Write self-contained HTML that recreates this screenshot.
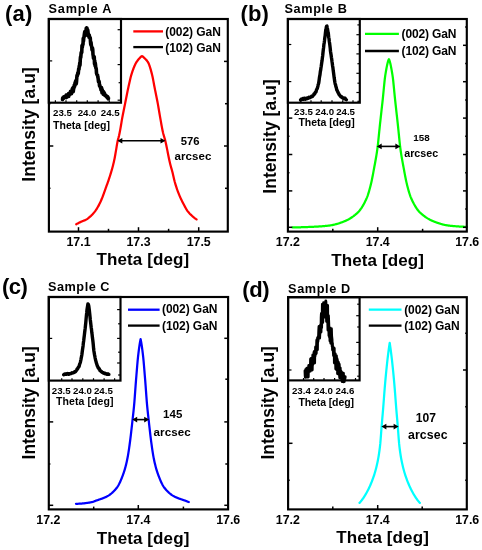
<!DOCTYPE html><html><head><meta charset="utf-8"><title>XRD rocking curves</title>
<style>html,body{margin:0;padding:0;background:#fff}svg{display:block}</style></head><body>
<svg width="482" height="550" viewBox="0 0 482 550" style="font-family:'Liberation Sans',Arial,sans-serif;font-weight:bold" fill="#000">
<rect width="482" height="550" fill="#fff"/>
<g>
<polyline points="76.2,224.3 76.6,224.07 77,223.85 77.4,223.63 77.8,223.41 78.2,223.2 78.6,222.99 79,222.78 79.4,222.57 79.8,222.37 80.2,222.18 80.6,221.98 81,221.79 81.4,221.61 81.8,221.44 82.2,221.27 82.6,221.12 83,220.96 83.4,220.81 83.8,220.66 84.2,220.51 84.6,220.35 85,220.18 85.4,220 85.8,219.81 86.2,219.6 86.6,219.37 87,219.11 87.4,218.83 87.8,218.54 88.2,218.23 88.6,217.9 89,217.57 89.4,217.23 89.8,216.89 90.2,216.54 90.6,216.18 91,215.82 91.4,215.44 91.8,215.05 92.2,214.64 92.6,214.23 93,213.79 93.4,213.35 93.8,212.88 94.2,212.4 94.6,211.88 95,211.35 95.4,210.79 95.8,210.22 96.2,209.62 96.6,209.01 97,208.38 97.4,207.73 97.8,207.05 98.2,206.35 98.6,205.63 99,204.88 99.4,204.1 99.8,203.3 100.2,202.47 100.6,201.6 101,200.7 101.4,199.76 101.8,198.79 102.2,197.8 102.6,196.8 103,195.77 103.4,194.69 103.8,193.59 104.2,192.46 104.6,191.33 105,190.19 105.4,189.06 105.8,187.94 106.2,186.84 106.6,185.74 107,184.64 107.4,183.53 107.8,182.41 108.2,181.27 108.6,180.1 109,178.9 109.4,177.7 109.8,176.48 110.2,175.23 110.6,173.96 111,172.65 111.4,171.3 111.8,169.9 112.2,168.46 112.6,166.98 113,165.45 113.4,163.85 113.8,162.16 114.2,160.37 114.6,158.42 115,156.26 115.4,153.96 115.8,151.63 116.2,149.32 116.6,146.89 117,144.44 117.4,142.18 117.8,140.33 118.2,138.82 118.6,137.39 119,135.77 119.4,133.96 119.8,132.01 120.2,129.9 120.6,127.62 121,125.23 121.4,122.81 121.8,120.42 122.2,118.14 122.6,116.01 123,113.95 123.4,111.94 123.8,109.97 124.2,108.01 124.6,106.06 125,104.1 125.4,102.09 125.8,100.06 126.2,98 126.6,95.95 127,93.91 127.4,91.92 127.8,89.99 128.2,88.14 128.6,86.31 129,84.48 129.4,82.67 129.8,80.9 130.2,79.19 130.6,77.57 131,76.05 131.4,74.65 131.8,73.38 132.2,72.16 132.6,70.98 133,69.84 133.4,68.75 133.8,67.71 134.2,66.71 134.6,65.78 135,64.89 135.4,64.07 135.8,63.3 136.2,62.6 136.6,61.95 137,61.34 137.4,60.78 137.8,60.24 138.2,59.74 138.6,59.27 139,58.82 139.4,58.4 139.8,57.99 140.2,57.55 140.6,57.11 141,56.71 141.4,56.4 141.8,56.22 142.2,56.22 142.6,56.4 143,56.7 143.4,57.08 143.8,57.5 144.2,57.91 144.6,58.28 145,58.65 145.4,59.03 145.8,59.44 146.2,59.86 146.6,60.32 147,60.81 147.4,61.35 147.8,61.95 148.2,62.6 148.6,63.37 149,64.29 149.4,65.34 149.8,66.52 150.2,67.8 150.6,69.16 151,70.6 151.4,72.09 151.8,73.61 152.2,75.23 152.6,77.05 153,79.04 153.4,81.15 153.8,83.31 154.2,85.47 154.6,87.58 155,89.6 155.4,91.57 155.8,93.52 156.2,95.47 156.6,97.44 157,99.45 157.4,101.51 157.8,103.64 158.2,105.88 158.6,108.21 159,110.59 159.4,112.97 159.8,115.32 160.2,117.6 160.6,119.86 161,122.16 161.4,124.44 161.8,126.66 162.2,128.78 162.6,130.75 163,132.52 163.4,134.09 163.8,135.52 164.2,136.86 164.6,138.21 165,139.64 165.4,141.21 165.8,142.92 166.2,144.74 166.6,146.65 167,148.63 167.4,150.64 167.8,152.67 168.2,154.7 168.6,156.71 169,158.66 169.4,160.54 169.8,162.33 170.2,164 170.6,165.53 171,166.95 171.4,168.33 171.8,169.72 172.2,171.2 172.6,172.8 173,174.51 173.4,176.26 173.8,178.01 174.2,179.71 174.6,181.3 175,182.75 175.4,184.11 175.8,185.43 176.2,186.69 176.6,187.92 177,189.1 177.4,190.25 177.8,191.35 178.2,192.42 178.6,193.45 179,194.44 179.4,195.41 179.8,196.34 180.2,197.24 180.6,198.12 181,198.97 181.4,199.81 181.8,200.63 182.2,201.43 182.6,202.22 183,203 183.4,203.78 183.8,204.56 184.2,205.33 184.6,206.1 185,206.85 185.4,207.59 185.8,208.3 186.2,208.98 186.6,209.64 187,210.25 187.4,210.83 187.8,211.36 188.2,211.87 188.6,212.36 189,212.82 189.4,213.27 189.8,213.7 190.2,214.11 190.6,214.51 191,214.9 191.4,215.28 191.8,215.65 192.2,216.01 192.6,216.37 193,216.71 193.4,217.05 193.8,217.39 194.2,217.71 194.6,218.02 195,218.33 195.4,218.62 195.8,218.9 196.2,219.18 196.6,219.44" fill="none" stroke="#ff0000" stroke-width="2.25" stroke-linejoin="round" stroke-linecap="round" />
<line x1="78.5" y1="231.6" x2="78.5" y2="227.2" stroke="#000" stroke-width="1.5"/>
<text x="78.5" y="246" font-size="12.4" text-anchor="middle" >17.1</text>
<line x1="108.5" y1="231.6" x2="108.5" y2="228.8" stroke="#000" stroke-width="1.5"/>
<line x1="138.5" y1="231.6" x2="138.5" y2="227.2" stroke="#000" stroke-width="1.5"/>
<text x="138.5" y="246" font-size="12.4" text-anchor="middle" >17.3</text>
<line x1="168.6" y1="231.6" x2="168.6" y2="228.8" stroke="#000" stroke-width="1.5"/>
<line x1="198.7" y1="231.6" x2="198.7" y2="227.2" stroke="#000" stroke-width="1.5"/>
<text x="198.7" y="246" font-size="12.4" text-anchor="middle" >17.5</text>
<line x1="48.9" y1="61.4" x2="53.3" y2="61.4" stroke="#000" stroke-width="1.5"/>
<line x1="227.8" y1="61.4" x2="224" y2="61.4" stroke="#000" stroke-width="1.5"/>
<line x1="48.9" y1="103.7" x2="50.5" y2="103.7" stroke="#000" stroke-width="1.5"/>
<line x1="227.8" y1="103.7" x2="225" y2="103.7" stroke="#000" stroke-width="1.5"/>
<line x1="48.9" y1="146" x2="53.3" y2="146" stroke="#000" stroke-width="1.5"/>
<line x1="227.8" y1="146" x2="224" y2="146" stroke="#000" stroke-width="1.5"/>
<line x1="48.9" y1="188.3" x2="50.5" y2="188.3" stroke="#000" stroke-width="1.5"/>
<line x1="227.8" y1="188.3" x2="225" y2="188.3" stroke="#000" stroke-width="1.5"/>
<rect x="48.8" y="19" width="72.2" height="83.7" fill="#fff" stroke="#000" stroke-width="2.15"/>
<polyline points="62.5,99.48 62.75,97.83 63,98.43 63.25,98.14 63.5,98.54 63.75,96.73 64,97.37 64.25,96.99 64.5,96.62 64.75,96.68 65,96.84 65.25,96.91 65.5,96.26 65.75,97.28 66,96.31 66.25,95.06 66.5,97.58 66.75,96.01 67,95.53 67.25,96.3 67.5,96.1 67.75,95.76 68,94.71 68.25,95.53 68.5,93.63 68.75,96.39 69,93.46 69.25,94.31 69.5,94.31 69.75,94.29 70,93.55 70.25,94.08 70.5,91.34 70.75,92.77 71,92.41 71.25,91.79 71.5,93.7 71.75,90.49 72,91.16 72.25,88.9 72.5,90.81 72.75,88.09 73,87.7 73.25,91.6 73.5,89.62 73.75,88.22 74,87.92 74.25,85.21 74.5,85.09 74.75,86.44 75,82.87 75.25,84.83 75.5,81.32 75.75,83.07 76,80.42 76.25,83.81 76.5,81.75 76.75,78.33 77,75.43 77.25,75.63 77.5,75.64 77.75,72.88 78,73.79 78.25,73.71 78.5,70.56 78.75,68.49 79,69.27 79.25,65.88 79.5,66.57 79.75,62.91 80,65.13 80.25,59.95 80.5,56.85 80.75,57.58 81,54.52 81.25,52.24 81.5,52.24 81.75,52.42 82,45.65 82.25,47.45 82.5,45.61 82.75,44.01 83,44.54 83.25,38.24 83.5,41.2 83.75,37.76 84,37.18 84.25,35.01 84.5,33.38 84.75,31.67 85,32.83 85.25,35.58 85.5,33 85.75,31.97 86,30.76 86.25,28.1 86.5,30.11 86.75,33 87,28.1 87.25,30.5 87.5,31.31 87.75,30.07 88,31.96 88.25,34.17 88.5,36.09 88.75,35.55 89,37.2 89.25,35.05 89.5,37.31 89.75,36.97 90,38.47 90.25,37.97 90.5,41.76 90.75,44.7 91,42.33 91.25,44.51 91.5,46.6 91.75,46.58 92,49.86 92.25,49.7 92.5,48.02 92.75,49.7 93,54.73 93.25,55.9 93.5,58.21 93.75,57.82 94,59.04 94.25,56.85 94.5,63.9 94.75,60.7 95,65.68 95.25,62.84 95.5,65.01 95.75,67.77 96,68.04 96.25,68.9 96.5,73.03 96.75,73.95 97,74.75 97.25,74.75 97.5,75.12 97.75,76.77 98,77.76 98.25,79.55 98.5,81.73 98.75,81.25 99,81.23 99.25,82.36 99.5,85.9 99.75,85.09 100,85.96 100.25,86.77 100.5,87.9 100.75,88 101,89.99 101.25,90.12 101.5,87.46 101.75,90.02 102,92.83 102.25,89.59 102.5,91.69 102.75,93.19 103,92.33 103.25,94.2 103.5,91.66 103.75,92.03 104,93.52 104.25,93.25 104.5,93.22 104.75,95.21 105,95.18 105.25,95.2 105.5,95.07 105.75,95.98 106,95.87 106.25,95.56 106.5,96.93 106.75,97.02 107,96.98 107.25,97.71 107.5,96.4 107.75,97.38 108,97.25 108.25,98.83 108.5,98.33" fill="none" stroke="#000" stroke-width="3.6" stroke-linejoin="round" stroke-linecap="round" />
<text x="62.5" y="116.4" font-size="9.7" text-anchor="middle" >23.5</text>
<text x="87.1" y="116.4" font-size="9.7" text-anchor="middle" >24.0</text>
<text x="110.2" y="116.4" font-size="9.7" text-anchor="middle" >24.5</text>
<line x1="55.4" y1="102.7" x2="55.4" y2="100.3" stroke="#000" stroke-width="1.2"/>
<line x1="66" y1="102.7" x2="66" y2="100.3" stroke="#000" stroke-width="1.2"/>
<line x1="76.7" y1="102.7" x2="76.7" y2="100.3" stroke="#000" stroke-width="1.2"/>
<line x1="87.3" y1="102.7" x2="87.3" y2="100.3" stroke="#000" stroke-width="1.2"/>
<line x1="98.1" y1="102.7" x2="98.1" y2="100.3" stroke="#000" stroke-width="1.2"/>
<line x1="109.3" y1="102.7" x2="109.3" y2="100.3" stroke="#000" stroke-width="1.2"/>
<text x="53" y="128.6" font-size="10.5" text-anchor="start" textLength="57" lengthAdjust="spacing" >Theta [deg]</text>
<line x1="48.8" y1="60.9" x2="52.2" y2="60.9" stroke="#000" stroke-width="1.2"/>
<line x1="121" y1="29.7" x2="117.6" y2="29.7" stroke="#000" stroke-width="1.2"/>
<line x1="121" y1="47.8" x2="118.6" y2="47.8" stroke="#000" stroke-width="1.2"/>
<line x1="121" y1="64.6" x2="117.6" y2="64.6" stroke="#000" stroke-width="1.2"/>
<line x1="121" y1="82.7" x2="118.6" y2="82.7" stroke="#000" stroke-width="1.2"/>
<line x1="121" y1="100.2" x2="117.6" y2="100.2" stroke="#000" stroke-width="1.2"/>
<rect x="48.9" y="19" width="178.9" height="212.6" fill="none" stroke="#000" stroke-width="2.15"/>
<line x1="133.3" y1="31.4" x2="163" y2="31.4" stroke="#ff0000" stroke-width="2.3"/>
<line x1="133.3" y1="47.1" x2="163" y2="47.1" stroke="#000" stroke-width="2.3"/>
<text x="165.3" y="35.9" font-size="12" text-anchor="start" textLength="55.6" lengthAdjust="spacing" >(002) GaN</text>
<text x="165.3" y="51.6" font-size="12" text-anchor="start" textLength="55.6" lengthAdjust="spacing" >(102) GaN</text>
<line x1="120.3" y1="140.8" x2="162.5" y2="140.8" stroke="#000" stroke-width="1.6"/><polygon points="117.3,140.8 122.3,138 122.3,143.6" fill="#000"/><polygon points="165.5,140.8 160.5,138 160.5,143.6" fill="#000"/>
<text x="190.1" y="144.8" font-size="11.3" text-anchor="middle" >576</text>
<text x="174.5" y="159.9" font-size="11.5" text-anchor="start" textLength="37" lengthAdjust="spacing" >arcsec</text>
<text x="96.6" y="265.1" font-size="17" text-anchor="start" textLength="92.6" lengthAdjust="spacing" >Theta [deg]</text>
<text transform="translate(35.4,124.5) rotate(-90)" x="-57.25" y="0" font-size="17.5" textLength="114.5" lengthAdjust="spacing">Intensity [a.u]</text>
<text x="5" y="21.2" font-size="22" text-anchor="start" textLength="27.4" lengthAdjust="spacing" >(a)</text>
<text x="48.6" y="13" font-size="12.7" text-anchor="start" textLength="62.8" lengthAdjust="spacing" >Sample A</text>
</g>
<g>
<polyline points="292.4,227.4 292.8,227.4 293.2,227.4 293.6,227.39 294,227.39 294.4,227.39 294.8,227.38 295.2,227.38 295.6,227.37 296,227.36 296.4,227.36 296.8,227.35 297.2,227.34 297.6,227.33 298,227.33 298.4,227.32 298.8,227.31 299.2,227.3 299.6,227.29 300,227.28 300.4,227.27 300.8,227.26 301.2,227.24 301.6,227.23 302,227.22 302.4,227.21 302.8,227.2 303.2,227.18 303.6,227.17 304,227.15 304.4,227.14 304.8,227.13 305.2,227.11 305.6,227.1 306,227.08 306.4,227.07 306.8,227.05 307.2,227.04 307.6,227.02 308,227 308.4,226.99 308.8,226.97 309.2,226.96 309.6,226.94 310,226.92 310.4,226.91 310.8,226.89 311.2,226.87 311.6,226.86 312,226.84 312.4,226.82 312.8,226.8 313.2,226.79 313.6,226.77 314,226.75 314.4,226.73 314.8,226.71 315.2,226.69 315.6,226.67 316,226.65 316.4,226.63 316.8,226.61 317.2,226.59 317.6,226.57 318,226.54 318.4,226.52 318.8,226.49 319.2,226.47 319.6,226.44 320,226.41 320.4,226.39 320.8,226.36 321.2,226.33 321.6,226.3 322,226.27 322.4,226.24 322.8,226.2 323.2,226.17 323.6,226.14 324,226.1 324.4,226.07 324.8,226.03 325.2,225.99 325.6,225.95 326,225.92 326.4,225.88 326.8,225.83 327.2,225.79 327.6,225.75 328,225.7 328.4,225.66 328.8,225.61 329.2,225.56 329.6,225.51 330,225.45 330.4,225.39 330.8,225.33 331.2,225.26 331.6,225.19 332,225.11 332.4,225.03 332.8,224.95 333.2,224.87 333.6,224.78 334,224.68 334.4,224.59 334.8,224.49 335.2,224.39 335.6,224.28 336,224.17 336.4,224.06 336.8,223.95 337.2,223.83 337.6,223.71 338,223.59 338.4,223.46 338.8,223.34 339.2,223.21 339.6,223.08 340,222.94 340.4,222.81 340.8,222.67 341.2,222.53 341.6,222.39 342,222.24 342.4,222.1 342.8,221.95 343.2,221.8 343.6,221.65 344,221.49 344.4,221.33 344.8,221.16 345.2,220.99 345.6,220.81 346,220.63 346.4,220.44 346.8,220.25 347.2,220.05 347.6,219.85 348,219.64 348.4,219.43 348.8,219.2 349.2,218.98 349.6,218.74 350,218.51 350.4,218.26 350.8,218.01 351.2,217.75 351.6,217.49 352,217.22 352.4,216.94 352.8,216.66 353.2,216.36 353.6,216.07 354,215.76 354.4,215.45 354.8,215.13 355.2,214.81 355.6,214.47 356,214.13 356.4,213.78 356.8,213.43 357.2,213.07 357.6,212.69 358,212.31 358.4,211.9 358.8,211.47 359.2,211.02 359.6,210.54 360,210.03 360.4,209.5 360.8,208.95 361.2,208.38 361.6,207.78 362,207.16 362.4,206.51 362.8,205.84 363.2,205.15 363.6,204.43 364,203.69 364.4,202.93 364.8,202.14 365.2,201.34 365.6,200.5 366,199.65 366.4,198.77 366.8,197.87 367.2,196.89 367.6,195.81 368,194.65 368.4,193.4 368.8,192.09 369.2,190.7 369.6,189.25 370,187.75 370.4,186.2 370.8,184.61 371.2,182.98 371.6,181.22 372,179.32 372.4,177.32 372.8,175.24 373.2,173.09 373.6,170.91 374,168.73 374.4,166.57 374.8,164.42 375.2,162.26 375.6,160.05 376,157.76 376.4,155.36 376.8,152.81 377.2,150.09 377.6,147.17 378,143.76 378.4,139.78 378.8,135.89 379.2,131.96 379.6,128.05 380,124.23 380.4,120.52 380.8,116.89 381.2,113.3 381.6,109.73 382,106.16 382.4,102.55 382.8,98.86 383.2,94.91 383.6,90.75 384,86.58 384.4,82.58 384.8,78.95 385.2,75.87 385.6,73.38 386,71.01 386.4,68.75 386.8,66.63 387.2,64.68 387.6,62.95 388,61.46 388.4,60.26 388.8,59.37 388.9,59.2 389.2,59.77 389.6,60.82 390,62.17 390.4,63.79 390.8,65.63 391.2,67.67 391.6,69.86 392,72.19 392.4,74.59 392.8,77.33 393.2,80.71 393.6,84.55 394,88.65 394.4,92.84 394.8,96.92 395.2,100.72 395.6,104.36 396,107.95 396.4,111.52 396.8,115.09 397.2,118.7 397.6,122.37 398,126.12 398.4,130 398.8,133.93 399.2,137.84 399.6,141.78 400,145.59 400.4,148.66 400.8,151.48 401.2,154.1 401.6,156.57 402,158.91 402.4,161.16 402.8,163.34 403.2,165.49 403.6,167.64 404,169.82 404.4,172.01 404.8,174.17 405.2,176.29 405.6,178.33 406,180.29 406.4,182.12 406.8,183.8 407.2,185.41 407.6,186.98 408,188.51 408.4,189.98 408.8,191.4 409.2,192.75 409.6,194.04 410,195.24 410.4,196.36 410.8,197.39 411.2,198.33 411.6,199.21 412,200.08 412.4,200.92 412.8,201.74 413.2,202.54 413.6,203.31 414,204.07 414.4,204.79 414.8,205.5 415.2,206.18 415.6,206.84 416,207.47 416.4,208.08 416.8,208.67 417.2,209.23 417.6,209.77 418,210.29 418.4,210.78 418.8,211.25 419.2,211.69 419.6,212.11 420,212.5 420.4,212.88 420.8,213.25 421.2,213.61 421.6,213.96 422,214.3 422.4,214.64 422.8,214.97 423.2,215.29 423.6,215.61 424,215.92 424.4,216.22 424.8,216.51 425.2,216.8 425.6,217.08 426,217.35 426.4,217.62 426.8,217.88 427.2,218.14 427.6,218.38 428,218.63 428.4,218.86 428.8,219.09 429.2,219.32 429.6,219.53 430,219.75 430.4,219.95 430.8,220.15 431.2,220.35 431.6,220.54 432,220.72 432.4,220.9 432.8,221.08 433.2,221.25 433.6,221.41 434,221.57 434.4,221.72 434.8,221.87 435.2,222.02 435.6,222.17 436,222.31 436.4,222.46 436.8,222.6 437.2,222.74 437.6,222.87 438,223.01 438.4,223.14 438.8,223.27 439.2,223.4 439.6,223.53 440,223.65 440.4,223.77 440.8,223.89 441.2,224 441.6,224.12 442,224.23 442.4,224.33 442.8,224.44 443.2,224.54 443.6,224.64 444,224.73 444.4,224.82 444.8,224.91 445.2,224.99 445.6,225.07 446,225.15 446.4,225.23 446.8,225.3 447.2,225.36 447.6,225.42 448,225.48 448.4,225.54 448.8,225.59 449.2,225.64 449.6,225.68 450,225.73 450.4,225.77 450.8,225.81 451.2,225.85 451.6,225.9 452,225.94 452.4,225.97 452.8,226.01 453.2,226.05 453.6,226.09 454,226.12 454.4,226.15 454.8,226.19 455.2,226.22 455.6,226.25 456,226.28 456.4,226.31 456.8,226.34 457.2,226.37 457.6,226.4 458,226.43 458.4,226.45 458.8,226.48 459.2,226.51 459.6,226.53 460,226.55 460.4,226.58 460.8,226.6 461.2,226.62 461.6,226.64 462,226.66 462.4,226.68 462.8,226.7 463.2,226.72 463.6,226.74 464,226.76 464.4,226.78 464.8,226.8 465.2,226.81 465.6,226.83 466,226.85 466.4,226.86 466.8,226.88" fill="none" stroke="#00ff00" stroke-width="2.25" stroke-linejoin="round" stroke-linecap="round" />
<text x="287.9" y="246" font-size="12.4" text-anchor="middle" >17.2</text>
<line x1="332.8" y1="231.6" x2="332.8" y2="228.8" stroke="#000" stroke-width="1.5"/>
<line x1="377.7" y1="231.6" x2="377.7" y2="227.2" stroke="#000" stroke-width="1.5"/>
<text x="377.7" y="246" font-size="12.4" text-anchor="middle" >17.4</text>
<line x1="422.6" y1="231.6" x2="422.6" y2="228.8" stroke="#000" stroke-width="1.5"/>
<text x="467.2" y="246" font-size="12.4" text-anchor="middle" >17.6</text>
<line x1="287.9" y1="27.1" x2="289.5" y2="27.1" stroke="#000" stroke-width="1.5"/>
<line x1="466.8" y1="27.1" x2="465.2" y2="27.1" stroke="#000" stroke-width="1.5"/>
<line x1="287.9" y1="45.3" x2="292.3" y2="45.3" stroke="#000" stroke-width="1.5"/>
<line x1="466.8" y1="45.3" x2="463" y2="45.3" stroke="#000" stroke-width="1.5"/>
<line x1="287.9" y1="63.5" x2="289.5" y2="63.5" stroke="#000" stroke-width="1.5"/>
<line x1="466.8" y1="63.5" x2="465.2" y2="63.5" stroke="#000" stroke-width="1.5"/>
<line x1="287.9" y1="81.7" x2="292.3" y2="81.7" stroke="#000" stroke-width="1.5"/>
<line x1="466.8" y1="81.7" x2="463" y2="81.7" stroke="#000" stroke-width="1.5"/>
<line x1="287.9" y1="99.9" x2="289.5" y2="99.9" stroke="#000" stroke-width="1.5"/>
<line x1="466.8" y1="99.9" x2="465.2" y2="99.9" stroke="#000" stroke-width="1.5"/>
<line x1="287.9" y1="118.1" x2="292.3" y2="118.1" stroke="#000" stroke-width="1.5"/>
<line x1="466.8" y1="118.1" x2="463" y2="118.1" stroke="#000" stroke-width="1.5"/>
<line x1="287.9" y1="136.3" x2="289.5" y2="136.3" stroke="#000" stroke-width="1.5"/>
<line x1="466.8" y1="136.3" x2="465.2" y2="136.3" stroke="#000" stroke-width="1.5"/>
<line x1="287.9" y1="154.5" x2="292.3" y2="154.5" stroke="#000" stroke-width="1.5"/>
<line x1="466.8" y1="154.5" x2="463" y2="154.5" stroke="#000" stroke-width="1.5"/>
<line x1="287.9" y1="172.7" x2="289.5" y2="172.7" stroke="#000" stroke-width="1.5"/>
<line x1="466.8" y1="172.7" x2="465.2" y2="172.7" stroke="#000" stroke-width="1.5"/>
<line x1="287.9" y1="190.9" x2="292.3" y2="190.9" stroke="#000" stroke-width="1.5"/>
<line x1="466.8" y1="190.9" x2="463" y2="190.9" stroke="#000" stroke-width="1.5"/>
<line x1="287.9" y1="209.1" x2="289.5" y2="209.1" stroke="#000" stroke-width="1.5"/>
<line x1="466.8" y1="209.1" x2="465.2" y2="209.1" stroke="#000" stroke-width="1.5"/>
<line x1="287.9" y1="227.3" x2="292.3" y2="227.3" stroke="#000" stroke-width="1.5"/>
<line x1="466.8" y1="227.3" x2="463" y2="227.3" stroke="#000" stroke-width="1.5"/>
<rect x="287.9" y="19" width="71.9" height="83.7" fill="#fff" stroke="#000" stroke-width="2.15"/>
<polyline points="300.5,99.95 300.8,99.96 301.1,99.42 301.4,99.08 301.7,98.91 302,99.26 302.3,98.84 302.6,98.64 302.9,99.16 303.2,99.08 303.5,99.18 303.8,98.61 304.1,98.88 304.4,98.8 304.7,98.24 305,98.89 305.3,98.76 305.6,99.21 305.9,98.59 306.2,98.4 306.5,98.81 306.8,98.37 307.1,98.54 307.4,98.02 307.7,98.14 308,98.34 308.3,98.13 308.6,97.84 308.9,97.32 309.2,97.75 309.5,97.51 309.8,97.62 310.1,97.32 310.4,97.49 310.7,96.96 311,96.9 311.3,96.91 311.6,96.13 311.9,96.2 312.2,95.97 312.5,96.55 312.8,95.64 313.1,95.63 313.4,95.33 313.7,94.69 314,93.91 314.3,94.43 314.6,93.56 314.9,93.55 315.2,92.4 315.5,92.2 315.8,92.22 316.1,91.66 316.4,90.03 316.7,89.29 317,88.96 317.3,88.38 317.6,87.21 317.9,86.17 318.2,84.51 318.5,83.75 318.8,82.49 319.1,80.19 319.4,77.87 319.7,76.06 320,74.62 320.3,71.83 320.6,70.47 320.9,68.19 321.2,66.45 321.5,64.28 321.8,62.15 322.1,60.37 322.4,57.64 322.7,55.54 323,52.48 323.3,49.81 323.6,47.63 323.9,44.51 324.2,42.83 324.5,40.63 324.8,37.87 325.1,36.06 325.4,33.28 325.7,30.68 326,29.39 326.3,27.28 326.6,26.12 326.9,26.03 327.2,27.56 327.5,28.9 327.8,30.69 328.1,32.68 328.4,34 328.7,37.27 329,38.66 329.3,41.45 329.6,43.22 329.9,45.61 330.2,48.13 330.5,51.23 330.8,53.17 331.1,55 331.4,57.33 331.7,59.13 332,61.58 332.3,63.46 332.6,66.05 332.9,67.61 333.2,70.34 333.5,72.51 333.8,74.75 334.1,77.33 334.4,79.14 334.7,81.16 335,83.02 335.3,84.45 335.6,84.92 335.9,86.82 336.2,87.12 336.5,88.68 336.8,90.19 337.1,90.29 337.4,90.96 337.7,91.82 338,92.39 338.3,92.96 338.6,93.21 338.9,94.35 339.2,94.75 339.5,94.82 339.8,95.42 340.1,95.92 340.4,96.38 340.7,96.45 341,96.8 341.3,96.69 341.6,96.61 341.9,97 342.2,97.7 342.5,97.85 342.8,97.71 343.1,97.61 343.4,98.06 343.7,98.68 344,98.72 344.3,98.16 344.6,98.53 344.9,98.17 345.2,98.42 345.5,99.02 345.8,99.09 346.1,99.54 346.4,99.77" fill="none" stroke="#000" stroke-width="3.4" stroke-linejoin="round" stroke-linecap="round" />
<text x="303.5" y="114.6" font-size="9.7" text-anchor="middle" >23.5</text>
<text x="324.7" y="114.6" font-size="9.7" text-anchor="middle" >24.0</text>
<text x="345.6" y="114.6" font-size="9.7" text-anchor="middle" >24.5</text>
<line x1="300.7" y1="102.7" x2="300.7" y2="100.3" stroke="#000" stroke-width="1.2"/>
<line x1="311" y1="102.7" x2="311" y2="100.3" stroke="#000" stroke-width="1.2"/>
<line x1="321.2" y1="102.7" x2="321.2" y2="100.3" stroke="#000" stroke-width="1.2"/>
<line x1="332" y1="102.7" x2="332" y2="100.3" stroke="#000" stroke-width="1.2"/>
<line x1="342.7" y1="102.7" x2="342.7" y2="100.3" stroke="#000" stroke-width="1.2"/>
<line x1="353" y1="102.7" x2="353" y2="100.3" stroke="#000" stroke-width="1.2"/>
<text x="298.4" y="126.1" font-size="10.5" text-anchor="start" textLength="56.3" lengthAdjust="spacing" >Theta [deg]</text>
<line x1="287.9" y1="44.5" x2="291.3" y2="44.5" stroke="#000" stroke-width="1.2"/>
<line x1="287.9" y1="81.6" x2="291.3" y2="81.6" stroke="#000" stroke-width="1.2"/>
<line x1="359.8" y1="24.9" x2="357.4" y2="24.9" stroke="#000" stroke-width="1.2"/>
<line x1="359.8" y1="34.7" x2="356.4" y2="34.7" stroke="#000" stroke-width="1.2"/>
<line x1="359.8" y1="44.5" x2="357.4" y2="44.5" stroke="#000" stroke-width="1.2"/>
<line x1="359.8" y1="53.9" x2="356.4" y2="53.9" stroke="#000" stroke-width="1.2"/>
<line x1="359.8" y1="63.7" x2="357.4" y2="63.7" stroke="#000" stroke-width="1.2"/>
<line x1="359.8" y1="73.3" x2="356.4" y2="73.3" stroke="#000" stroke-width="1.2"/>
<line x1="359.8" y1="83.2" x2="357.4" y2="83.2" stroke="#000" stroke-width="1.2"/>
<line x1="359.8" y1="92.5" x2="356.4" y2="92.5" stroke="#000" stroke-width="1.2"/>
<line x1="359.8" y1="101.3" x2="357.4" y2="101.3" stroke="#000" stroke-width="1.2"/>
<rect x="287.9" y="19" width="178.9" height="212.6" fill="none" stroke="#000" stroke-width="2.15"/>
<line x1="365" y1="33.8" x2="398.9" y2="33.8" stroke="#00ff00" stroke-width="2.3"/>
<line x1="365" y1="51" x2="398.9" y2="51" stroke="#000" stroke-width="2.3"/>
<text x="401.6" y="37.6" font-size="12" text-anchor="start" textLength="54.8" lengthAdjust="spacing" >(002) GaN</text>
<text x="401.6" y="54.8" font-size="12" text-anchor="start" textLength="54.8" lengthAdjust="spacing" >(102) GaN</text>
<line x1="379.7" y1="146.4" x2="397.4" y2="146.4" stroke="#000" stroke-width="1.6"/><polygon points="376.7,146.4 381.7,143.6 381.7,149.2" fill="#000"/><polygon points="400.4,146.4 395.4,143.6 395.4,149.2" fill="#000"/>
<text x="421.5" y="140.8" font-size="9.8" text-anchor="middle" >158</text>
<text x="404.25" y="157.1" font-size="10.7" text-anchor="start" textLength="33.9" lengthAdjust="spacing" >arcsec</text>
<text x="331.3" y="265.5" font-size="17" text-anchor="start" textLength="92.7" lengthAdjust="spacing" >Theta [deg]</text>
<text transform="translate(276.1,136.5) rotate(-90)" x="-57.25" y="0" font-size="17.5" textLength="114.5" lengthAdjust="spacing">Intensity [a.u]</text>
<text x="240.5" y="20.6" font-size="22" text-anchor="start" textLength="28.4" lengthAdjust="spacing" >(b)</text>
<text x="284.5" y="12.5" font-size="12.7" text-anchor="start" textLength="62.3" lengthAdjust="spacing" >Sample B</text>
</g>
<g>
<polyline points="76,503.8 76.4,503.8 76.8,503.79 77.2,503.79 77.6,503.78 78,503.76 78.4,503.75 78.8,503.73 79.2,503.71 79.6,503.69 80,503.67 80.4,503.64 80.8,503.61 81.2,503.58 81.6,503.55 82,503.52 82.4,503.48 82.8,503.44 83.2,503.4 83.6,503.36 84,503.31 84.4,503.27 84.8,503.22 85.2,503.17 85.6,503.12 86,503.07 86.4,503.01 86.8,502.95 87.2,502.9 87.6,502.84 88,502.78 88.4,502.72 88.8,502.65 89.2,502.59 89.6,502.52 90,502.45 90.4,502.39 90.8,502.32 91.2,502.24 91.6,502.17 92,502.1 92.4,502.01 92.8,501.9 93.2,501.77 93.6,501.63 94,501.47 94.4,501.31 94.8,501.14 95.2,500.98 95.6,500.81 96,500.66 96.4,500.52 96.8,500.37 97.2,500.23 97.6,500.1 98,499.96 98.4,499.82 98.8,499.69 99.2,499.55 99.6,499.42 100,499.28 100.4,499.15 100.8,499.01 101.2,498.87 101.6,498.73 102,498.59 102.4,498.44 102.8,498.29 103.2,498.14 103.6,497.98 104,497.82 104.4,497.65 104.8,497.48 105.2,497.3 105.6,497.11 106,496.92 106.4,496.72 106.8,496.52 107.2,496.3 107.6,496.08 108,495.84 108.4,495.6 108.8,495.34 109.2,495.08 109.6,494.8 110,494.51 110.4,494.22 110.8,493.91 111.2,493.59 111.6,493.25 112,492.91 112.4,492.55 112.8,492.18 113.2,491.79 113.6,491.4 114,490.99 114.4,490.57 114.8,490.13 115.2,489.68 115.6,489.21 116,488.73 116.4,488.24 116.8,487.73 117.2,487.2 117.6,486.61 118,485.98 118.4,485.31 118.8,484.59 119.2,483.83 119.6,483.02 120,482.18 120.4,481.3 120.8,480.38 121.2,479.43 121.6,478.45 122,477.43 122.4,476.39 122.8,475.32 123.2,474.22 123.6,473.1 124,471.93 124.4,470.68 124.8,469.34 125.2,467.93 125.6,466.43 126,464.85 126.4,463.18 126.8,461.41 127.2,459.56 127.6,457.59 128,455.38 128.4,452.94 128.8,450.32 129.2,447.57 129.6,444.72 130,441.77 130.4,438.64 130.8,435.34 131.2,431.91 131.6,428.39 132,424.81 132.4,421.2 132.8,417.61 133.2,414.03 133.6,410.31 134,406.31 134.4,401.8 134.8,396.65 135.2,391.15 135.6,385.63 136,380.41 136.4,375.49 136.8,370.55 137.2,365.73 137.6,361.21 138,357.14 138.4,353.65 138.8,350.43 139.2,347.42 139.6,344.66 140,342.21 140.4,340.11 140.6,339.2 140.8,340.11 141.2,342.21 141.6,344.66 142,347.42 142.4,350.43 142.8,353.65 143.2,357.14 143.6,361.21 144,365.73 144.4,370.55 144.8,375.49 145.2,380.41 145.6,385.63 146,391.15 146.4,396.65 146.8,401.8 147.2,406.31 147.6,410.31 148,414.03 148.4,417.61 148.8,421.2 149.2,424.81 149.6,428.39 150,431.91 150.4,435.34 150.8,438.64 151.2,441.77 151.6,444.72 152,447.57 152.4,450.32 152.8,452.94 153.2,455.38 153.6,457.59 154,459.56 154.4,461.41 154.8,463.18 155.2,464.85 155.6,466.43 156,467.93 156.4,469.34 156.8,470.68 157.2,471.93 157.6,473.1 158,474.22 158.4,475.32 158.8,476.39 159.2,477.43 159.6,478.45 160,479.43 160.4,480.38 160.8,481.3 161.2,482.18 161.6,483.02 162,483.83 162.4,484.59 162.8,485.31 163.2,485.98 163.6,486.61 164,487.2 164.4,487.73 164.8,488.24 165.2,488.73 165.6,489.21 166,489.68 166.4,490.13 166.8,490.57 167.2,490.99 167.6,491.4 168,491.79 168.4,492.18 168.8,492.55 169.2,492.91 169.6,493.25 170,493.59 170.4,493.91 170.8,494.22 171.2,494.51 171.6,494.8 172,495.08 172.4,495.34 172.8,495.6 173.2,495.84 173.6,496.08 174,496.3 174.4,496.52 174.8,496.72 175.2,496.92 175.6,497.11 176,497.3 176.4,497.48 176.8,497.65 177.2,497.82 177.6,497.98 178,498.14 178.4,498.29 178.8,498.44 179.2,498.59 179.6,498.73 180,498.87 180.4,499.01 180.8,499.15 181.2,499.28 181.6,499.42 182,499.55 182.4,499.69 182.8,499.82 183.2,499.96 183.6,500.1 184,500.23 184.4,500.37 184.8,500.52 185.2,500.66 185.6,500.81 186,500.98 186.4,501.14 186.8,501.31 187.2,501.47 187.6,501.63 188,501.77 188.4,501.9 188.8,502.01" fill="none" stroke="#0000ff" stroke-width="2.25" stroke-linejoin="round" stroke-linecap="round" />
<text x="48.4" y="523.6" font-size="12.4" text-anchor="middle" >17.2</text>
<line x1="93.7" y1="509.4" x2="93.7" y2="506.6" stroke="#000" stroke-width="1.5"/>
<line x1="138.3" y1="509.4" x2="138.3" y2="505" stroke="#000" stroke-width="1.5"/>
<text x="138.3" y="523.6" font-size="12.4" text-anchor="middle" >17.4</text>
<line x1="183.4" y1="509.4" x2="183.4" y2="506.6" stroke="#000" stroke-width="1.5"/>
<text x="228.2" y="523.6" font-size="12.4" text-anchor="middle" >17.6</text>
<line x1="48.8" y1="338.3" x2="53.2" y2="338.3" stroke="#000" stroke-width="1.5"/>
<line x1="228.1" y1="338.3" x2="224.3" y2="338.3" stroke="#000" stroke-width="1.5"/>
<line x1="48.8" y1="379.2" x2="50.4" y2="379.2" stroke="#000" stroke-width="1.5"/>
<line x1="228.1" y1="379.2" x2="225.3" y2="379.2" stroke="#000" stroke-width="1.5"/>
<line x1="48.8" y1="421.9" x2="53.2" y2="421.9" stroke="#000" stroke-width="1.5"/>
<line x1="228.1" y1="421.9" x2="224.3" y2="421.9" stroke="#000" stroke-width="1.5"/>
<line x1="48.8" y1="464" x2="50.4" y2="464" stroke="#000" stroke-width="1.5"/>
<line x1="228.1" y1="464" x2="225.3" y2="464" stroke="#000" stroke-width="1.5"/>
<line x1="48.8" y1="505.3" x2="53.2" y2="505.3" stroke="#000" stroke-width="1.5"/>
<line x1="228.1" y1="505.3" x2="224.3" y2="505.3" stroke="#000" stroke-width="1.5"/>
<rect x="48.8" y="297" width="71.7" height="83.6" fill="#fff" stroke="#000" stroke-width="2.15"/>
<polyline points="63.6,374.72 63.9,374.75 64.2,374.4 64.5,374.17 64.8,374.07 65.1,374.32 65.4,374.03 65.7,373.89 66,374.27 66.3,374.21 66.6,374.27 66.9,373.86 67.2,374.05 67.5,373.98 67.8,373.57 68.1,374.03 68.4,373.92 68.7,374.24 69,373.78 69.3,373.64 69.6,373.93 69.9,373.61 70.2,373.73 70.5,373.34 70.8,373.42 71.1,373.55 71.4,373.38 71.7,373.16 72,372.76 72.3,373.05 72.6,372.85 72.9,372.9 73.2,372.66 73.5,372.75 73.8,372.33 74.1,372.25 74.4,372.21 74.7,371.59 75,371.55 75.3,371.28 75.6,371.58 75.9,370.8 76.2,370.66 76.5,370.31 76.8,369.71 77.1,369.01 77.4,369.24 77.7,368.47 78,368.28 78.3,367.25 78.6,366.89 78.9,366.69 79.2,366.04 79.5,364.61 79.8,363.78 80.1,363.12 80.4,362.15 80.7,360.72 81,359.35 81.3,357.54 81.6,356.23 81.9,354.47 82.2,352.07 82.5,349.73 82.8,347.66 83.1,345.69 83.4,342.67 83.7,340.66 84,337.97 84.3,335.65 84.6,333.04 84.9,330.46 85.2,328.13 85.5,325.06 85.8,322.33 86.1,318.8 86.4,315.64 86.7,313.01 87,309.73 87.3,307.89 87.6,305.89 87.9,303.89 88.2,304 88.5,304.78 88.8,306.21 89.1,308.51 89.4,310.82 89.7,313.76 90,316.58 90.3,319.73 90.6,322.24 90.9,324.86 91.2,327.47 91.5,329.37 91.8,332.58 92.1,334.49 92.4,337.33 92.7,339.44 93,342.06 93.3,345.03 93.6,348.54 93.9,350.92 94.2,352.71 94.5,354.63 94.8,356.06 95.1,357.83 95.4,359.06 95.7,360.7 96,361.4 96.3,362.76 96.6,363.62 96.9,364.48 97.2,365.6 97.5,366.15 97.8,366.91 98.1,367.66 98.4,368.2 98.7,368.06 99,368.99 99.3,368.83 99.6,369.65 99.9,370.49 100.2,370.35 100.5,370.64 100.8,371.09 101.1,371.34 101.4,371.6 101.7,371.64 102,372.31 102.3,372.44 102.6,372.34 102.9,372.63 103.2,372.86 103.5,373.09 103.8,373.06 104.1,373.26 104.4,373.13 104.7,373.04 105,373.28 105.3,373.76 105.6,373.84 105.9,373.73 106.2,373.64 106.5,373.94 106.8,374.36 107.1,374.37 107.4,373.93 107.7,374.16 108,373.87 108.3,374.01 108.6,374.4 108.9,374.41" fill="none" stroke="#000" stroke-width="3.4" stroke-linejoin="round" stroke-linecap="round" />
<text x="61.2" y="393.8" font-size="9.7" text-anchor="middle" >23.5</text>
<text x="82.5" y="393.8" font-size="9.7" text-anchor="middle" >24.0</text>
<text x="103.4" y="393.8" font-size="9.7" text-anchor="middle" >24.5</text>
<line x1="61.7" y1="380.6" x2="61.7" y2="378.2" stroke="#000" stroke-width="1.2"/>
<line x1="72" y1="380.6" x2="72" y2="378.2" stroke="#000" stroke-width="1.2"/>
<line x1="82.8" y1="380.6" x2="82.8" y2="378.2" stroke="#000" stroke-width="1.2"/>
<line x1="93.5" y1="380.6" x2="93.5" y2="378.2" stroke="#000" stroke-width="1.2"/>
<line x1="104.1" y1="380.6" x2="104.1" y2="378.2" stroke="#000" stroke-width="1.2"/>
<line x1="114.6" y1="380.6" x2="114.6" y2="378.2" stroke="#000" stroke-width="1.2"/>
<text x="56" y="404.5" font-size="10.5" text-anchor="start" textLength="57.4" lengthAdjust="spacing" >Theta [deg]</text>
<line x1="48.8" y1="338.4" x2="52.2" y2="338.4" stroke="#000" stroke-width="1.2"/>
<line x1="120.5" y1="309.6" x2="117.1" y2="309.6" stroke="#000" stroke-width="1.2"/>
<line x1="120.5" y1="323.8" x2="118.1" y2="323.8" stroke="#000" stroke-width="1.2"/>
<line x1="120.5" y1="338.4" x2="117.1" y2="338.4" stroke="#000" stroke-width="1.2"/>
<line x1="120.5" y1="352.2" x2="118.1" y2="352.2" stroke="#000" stroke-width="1.2"/>
<line x1="120.5" y1="363" x2="117.1" y2="363" stroke="#000" stroke-width="1.2"/>
<line x1="120.5" y1="375" x2="118.1" y2="375" stroke="#000" stroke-width="1.2"/>
<rect x="48.8" y="297" width="179.3" height="212.4" fill="none" stroke="#000" stroke-width="2.15"/>
<line x1="128" y1="309.7" x2="159.6" y2="309.7" stroke="#0000ff" stroke-width="2.3"/>
<line x1="128" y1="325.6" x2="159.6" y2="325.6" stroke="#000" stroke-width="2.3"/>
<text x="162" y="313.4" font-size="12" text-anchor="start" textLength="55.4" lengthAdjust="spacing" >(002) GaN</text>
<text x="162" y="330.1" font-size="12" text-anchor="start" textLength="55.4" lengthAdjust="spacing" >(102) GaN</text>
<line x1="135.2" y1="419.6" x2="146.2" y2="419.6" stroke="#000" stroke-width="1.6"/><polygon points="132.2,419.6 137.2,416.8 137.2,422.4" fill="#000"/><polygon points="149.2,419.6 144.2,416.8 144.2,422.4" fill="#000"/>
<text x="172.7" y="418.4" font-size="11.5" text-anchor="middle" >145</text>
<text x="153.5" y="435.6" font-size="11.6" text-anchor="start" textLength="37.2" lengthAdjust="spacing" >arcsec</text>
<text x="96.7" y="543.9" font-size="17" text-anchor="start" textLength="92.6" lengthAdjust="spacing" >Theta [deg]</text>
<text transform="translate(35.4,402.8) rotate(-90)" x="-56.6" y="0" font-size="17.5" textLength="113.2" lengthAdjust="spacing">Intensity [a.u]</text>
<text x="2" y="293.6" font-size="22" text-anchor="start" textLength="25.9" lengthAdjust="spacing" >(c)</text>
<text x="48" y="290.7" font-size="12.7" text-anchor="start" textLength="61.5" lengthAdjust="spacing" >Sample C</text>
</g>
<g>
<polyline points="359.5,502.9 359.9,502.48 360.3,502.03 360.7,501.57 361.1,501.08 361.5,500.58 361.9,500.06 362.3,499.52 362.7,498.96 363.1,498.38 363.5,497.79 363.9,497.19 364.3,496.57 364.7,495.93 365.1,495.28 365.5,494.62 365.9,493.94 366.3,493.24 366.7,492.53 367.1,491.8 367.5,491.05 367.9,490.28 368.3,489.48 368.7,488.67 369.1,487.84 369.5,486.98 369.9,486.09 370.3,485.19 370.7,484.26 371.1,483.3 371.5,482.32 371.9,481.3 372.3,480.27 372.7,479.2 373.1,478.1 373.5,476.97 373.9,475.79 374.3,474.57 374.7,473.28 375.1,471.94 375.5,470.52 375.9,469.04 376.3,467.47 376.7,465.81 377.1,464.07 377.5,462.22 377.9,460.26 378.3,458.11 378.7,455.75 379.1,453.15 379.5,450.26 379.9,447.07 380.3,443.44 380.7,438.67 381.1,433.22 381.5,427.84 381.9,423.04 382.3,418.44 382.7,413.85 383.1,409.09 383.5,404 383.9,398.72 384.3,393.43 384.7,388.35 385.1,383.67 385.5,379.22 385.9,374.91 386.3,370.76 386.7,366.79 387.1,363.02 387.5,359.47 387.9,356.08 388.3,352.84 388.7,349.75 389.1,346.84 389.5,344.1 389.7,342.8 389.9,344.1 390.3,346.84 390.7,349.75 391.1,352.84 391.5,356.08 391.9,359.47 392.3,363.02 392.7,366.79 393.1,370.76 393.5,374.91 393.9,379.22 394.3,383.67 394.7,388.35 395.1,393.43 395.5,398.72 395.9,404 396.3,409.09 396.7,413.85 397.1,418.44 397.5,423.04 397.9,427.84 398.3,433.22 398.7,438.67 399.1,443.44 399.5,447.07 399.9,450.26 400.3,453.15 400.7,455.75 401.1,458.11 401.5,460.26 401.9,462.22 402.3,464.07 402.7,465.81 403.1,467.47 403.5,469.04 403.9,470.52 404.3,471.94 404.7,473.28 405.1,474.57 405.5,475.79 405.9,476.97 406.3,478.1 406.7,479.2 407.1,480.27 407.5,481.3 407.9,482.32 408.3,483.3 408.7,484.26 409.1,485.19 409.5,486.09 409.9,486.98 410.3,487.84 410.7,488.67 411.1,489.48 411.5,490.28 411.9,491.05 412.3,491.8 412.7,492.53 413.1,493.24 413.5,493.94 413.9,494.62 414.3,495.28 414.7,495.93 415.1,496.57 415.5,497.19 415.9,497.79 416.3,498.38 416.7,498.96 417.1,499.52 417.5,500.06 417.9,500.58 418.3,501.08 418.7,501.57 419.1,502.03 419.5,502.48 419.9,502.9" fill="none" stroke="#00ffff" stroke-width="2.25" stroke-linejoin="round" stroke-linecap="round" />
<text x="287.9" y="523.9" font-size="12.4" text-anchor="middle" >17.2</text>
<line x1="332.8" y1="509.4" x2="332.8" y2="506.6" stroke="#000" stroke-width="1.5"/>
<line x1="377.7" y1="509.4" x2="377.7" y2="505" stroke="#000" stroke-width="1.5"/>
<text x="377.7" y="523.9" font-size="12.4" text-anchor="middle" >17.4</text>
<line x1="422.2" y1="509.4" x2="422.2" y2="506.6" stroke="#000" stroke-width="1.5"/>
<text x="467.2" y="523.9" font-size="12.4" text-anchor="middle" >17.6</text>
<line x1="288.1" y1="333.2" x2="289.7" y2="333.2" stroke="#000" stroke-width="1.5"/>
<line x1="466.8" y1="333.2" x2="465.2" y2="333.2" stroke="#000" stroke-width="1.5"/>
<line x1="288.1" y1="370" x2="292.5" y2="370" stroke="#000" stroke-width="1.5"/>
<line x1="466.8" y1="370" x2="463" y2="370" stroke="#000" stroke-width="1.5"/>
<line x1="288.1" y1="406.8" x2="289.7" y2="406.8" stroke="#000" stroke-width="1.5"/>
<line x1="466.8" y1="406.8" x2="465.2" y2="406.8" stroke="#000" stroke-width="1.5"/>
<line x1="288.1" y1="443.3" x2="292.5" y2="443.3" stroke="#000" stroke-width="1.5"/>
<line x1="466.8" y1="443.3" x2="463" y2="443.3" stroke="#000" stroke-width="1.5"/>
<line x1="288.1" y1="480.2" x2="289.7" y2="480.2" stroke="#000" stroke-width="1.5"/>
<line x1="466.8" y1="480.2" x2="465.2" y2="480.2" stroke="#000" stroke-width="1.5"/>
<rect x="288.1" y="297.2" width="71.5" height="83.2" fill="#fff" stroke="#000" stroke-width="2.15"/>
<polyline points="305,370.63 305.2,375.53 305.4,377.34 305.6,372.3 305.8,369.44 306,373.33 306.2,374.9 306.4,376.75 306.6,368.78 306.8,368.25 307,374.77 307.2,373.73 307.4,377.14 307.6,374.97 307.8,370.89 308,369.97 308.2,377.06 308.4,369.25 308.6,367.09 308.8,365.42 309,369.59 309.2,369.41 309.4,367.19 309.6,367.87 309.8,368.76 310,369.99 310.2,371.18 310.4,367.32 310.6,358.98 310.8,368.45 311,359.49 311.2,364.06 311.4,358.27 311.6,363.84 311.8,360.11 312,363.75 312.2,369.96 312.4,361.61 312.6,364.9 312.8,354.99 313,358.89 313.2,362.47 313.4,358.52 313.6,359.96 313.8,358.1 314,352.31 314.2,358.74 314.4,351.56 314.6,362.97 314.8,351.24 315,356.04 315.2,351.84 315.4,355.56 315.6,346.99 315.8,354 316,347.45 316.2,353.54 316.4,349.35 316.6,345.88 316.8,340.05 317,347.13 317.2,344.51 317.4,349.76 317.6,337.82 317.8,341.8 318,340.48 318.2,338.16 318.4,336.67 318.6,335.46 318.8,329.97 319,326.52 319.2,329.02 319.4,333.73 319.6,338.12 319.8,334 320,333.43 320.2,330.75 320.4,329.18 320.6,324.92 320.8,327.26 321,332.03 321.2,317.5 321.4,313.56 321.6,327.69 321.8,316.38 322,319.76 322.2,318.14 322.4,304.3 322.6,322.58 322.8,321.76 323,310.74 323.2,314.09 323.4,309.71 323.6,302.82 323.8,307.69 324,310.72 324.2,315.48 324.4,312.71 324.6,308.39 324.8,316.99 325,303.17 325.2,313.62 325.4,316 325.6,307.1 325.8,301 326,303.9 326.2,311.82 326.4,314.2 326.6,321.5 326.8,305.85 327,313.37 327.2,318.62 327.4,314.63 327.6,305.44 327.8,322.95 328,330.2 328.2,326.33 328.4,315.64 328.6,319.94 328.8,325 329,335.68 329.2,329.73 329.4,327.89 329.6,337.54 329.8,329.04 330,341.09 330.2,327.85 330.4,330.21 330.6,338.13 330.8,343.18 331,339.96 331.2,339.13 331.4,328.77 331.6,335.92 331.8,337.71 332,339.38 332.2,346.53 332.4,342.94 332.6,349.95 332.8,347.52 333,346.58 333.2,349.95 333.4,352.53 333.6,355.64 333.8,350.2 334,352.41 334.2,348.1 334.4,362.94 334.6,363.1 334.8,356.53 335,356.07 335.2,353.58 335.4,360.6 335.6,361.5 335.8,369.04 336,363.04 336.2,359.39 336.4,355.82 336.6,369.74 336.8,365.32 337,358.65 337.2,366.43 337.4,359.92 337.6,373.84 337.8,371.66 338,370.04 338.2,367.7 338.4,362.12 338.6,368.86 338.8,364.12 339,372.42 339.2,364.3 339.4,367.99 339.6,375.89 339.8,377.75 340,368.54 340.2,367.86 340.4,376.3 340.6,376.58 340.8,371.07 341,372.42 341.2,372.82 341.4,371.69 341.6,373.6 341.8,379.64 342,378.23 342.2,381.64 342.4,376.47 342.6,376.56 342.8,374.47 343,377.04 343.2,374.1 343.4,373.15 343.6,379.75 343.8,381.75 344,380.36 344.2,381.66 344.4,379.19 344.6,377.08 344.8,379.03 345,378.12 345.2,376.78" fill="none" stroke="#000" stroke-width="2.9" stroke-linejoin="round" stroke-linecap="round" />
<text x="301.4" y="393.6" font-size="9.7" text-anchor="middle" >23.4</text>
<text x="323.5" y="393.6" font-size="9.7" text-anchor="middle" >24.0</text>
<text x="345" y="393.6" font-size="9.7" text-anchor="middle" >24.6</text>
<line x1="303.5" y1="380.4" x2="303.5" y2="378" stroke="#000" stroke-width="1.2"/>
<line x1="313.7" y1="380.4" x2="313.7" y2="378" stroke="#000" stroke-width="1.2"/>
<line x1="324" y1="380.4" x2="324" y2="378" stroke="#000" stroke-width="1.2"/>
<line x1="334.6" y1="380.4" x2="334.6" y2="378" stroke="#000" stroke-width="1.2"/>
<line x1="344.9" y1="380.4" x2="344.9" y2="378" stroke="#000" stroke-width="1.2"/>
<line x1="355.5" y1="380.4" x2="355.5" y2="378" stroke="#000" stroke-width="1.2"/>
<text x="298.4" y="405.7" font-size="10.5" text-anchor="start" textLength="55.6" lengthAdjust="spacing" >Theta [deg]</text>
<line x1="288.1" y1="370" x2="291.5" y2="370" stroke="#000" stroke-width="1.2"/>
<line x1="359.6" y1="304.2" x2="357.2" y2="304.2" stroke="#000" stroke-width="1.2"/>
<line x1="359.6" y1="315.7" x2="356.2" y2="315.7" stroke="#000" stroke-width="1.2"/>
<line x1="359.6" y1="327" x2="357.2" y2="327" stroke="#000" stroke-width="1.2"/>
<line x1="359.6" y1="342.4" x2="356.2" y2="342.4" stroke="#000" stroke-width="1.2"/>
<line x1="359.6" y1="354.4" x2="357.2" y2="354.4" stroke="#000" stroke-width="1.2"/>
<line x1="359.6" y1="365.3" x2="356.2" y2="365.3" stroke="#000" stroke-width="1.2"/>
<line x1="359.6" y1="376.2" x2="357.2" y2="376.2" stroke="#000" stroke-width="1.2"/>
<rect x="288.1" y="297.2" width="178.7" height="212.2" fill="none" stroke="#000" stroke-width="2.15"/>
<line x1="368.8" y1="309.7" x2="401.5" y2="309.7" stroke="#00ffff" stroke-width="2.3"/>
<line x1="368.8" y1="325.6" x2="401.5" y2="325.6" stroke="#000" stroke-width="2.3"/>
<text x="404.2" y="313.7" font-size="12" text-anchor="start" textLength="55.4" lengthAdjust="spacing" >(002) GaN</text>
<text x="404.2" y="329.6" font-size="12" text-anchor="start" textLength="55.4" lengthAdjust="spacing" >(102) GaN</text>
<line x1="384.4" y1="426.6" x2="395.6" y2="426.6" stroke="#000" stroke-width="1.6"/><polygon points="381.4,426.6 386.4,423.8 386.4,429.4" fill="#000"/><polygon points="398.6,426.6 393.6,423.8 393.6,429.4" fill="#000"/>
<text x="425.9" y="421.6" font-size="12.1" text-anchor="middle" >107</text>
<text x="407.9" y="439.3" font-size="12.3" text-anchor="start" textLength="39.8" lengthAdjust="spacing" >arcsec</text>
<text x="336.2" y="543.1" font-size="17" text-anchor="start" textLength="92.6" lengthAdjust="spacing" >Theta [deg]</text>
<text transform="translate(273.8,402.8) rotate(-90)" x="-56.75" y="0" font-size="17.5" textLength="113.5" lengthAdjust="spacing">Intensity [a.u]</text>
<text x="242.2" y="296.5" font-size="22" text-anchor="start" textLength="27.4" lengthAdjust="spacing" >(d)</text>
<text x="288.1" y="292.8" font-size="12.7" text-anchor="start" textLength="62" lengthAdjust="spacing" >Sample D</text>
</g>
</svg></body></html>
